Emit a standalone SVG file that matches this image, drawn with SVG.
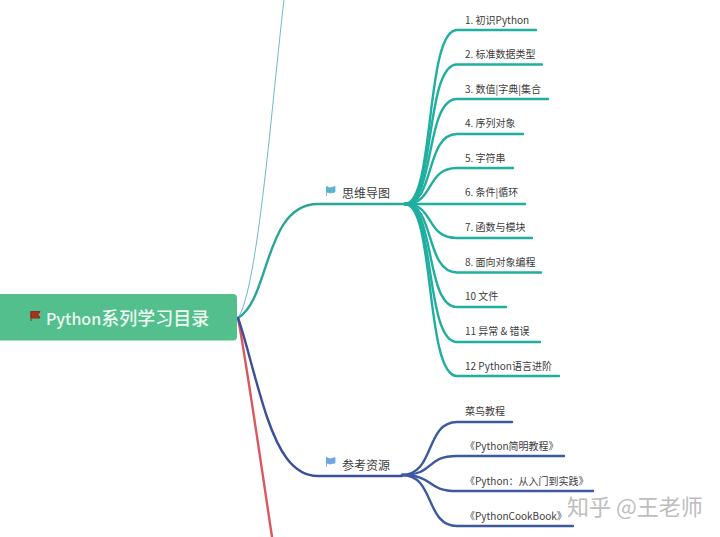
<svg xmlns="http://www.w3.org/2000/svg" width="720" height="537" viewBox="0 0 720 537">
<style>
text{font-family:"Noto Sans CJK SC","Noto Sans",sans-serif;fill:#3c3c3c}
.leaf{font-size:10px}
.mid{font-size:12px}
.root{font-size:18px;font-weight:500;fill:#eefaf3}
.root .lat{font-size:16px}
.c{fill:none;stroke-linecap:round}
.t{stroke:#1fae9f;stroke-width:2.4}
.b{stroke:#3c5a9e;stroke-width:2.4}
</style>
<rect width="720" height="537" fill="#fff"/>
<g id="connectors">
<path class="c" d="M238,318C258,290 272,100 284,0" stroke="#6db9c4" stroke-width="1"/>
<path class="c" d="M238,318C246,360 262,470 272,537" stroke="#d9585f" stroke-width="2.4"/>
<path class="c" d="M238,318C270,300 264,204 318,204H405" stroke="#2aa596" stroke-width="2.4"/>
<path class="c" d="M238,318C246,340 256,385 267,417S292,476 318,476H402" stroke="#3c4f98" stroke-width="2.4"/>
<g id="teal-branches">
<path class="c t" d="M405,204C435,204 425,30 457,30H536"/>
<path class="c t" d="M405,204C435,204 425,64.500 457,64.500H542"/>
<path class="c t" d="M405,204C435,204 425,99 457,99H548"/>
<path class="c t" d="M405,204C435,204 425,134 457,134H523"/>
<path class="c t" d="M405,204C435,204 425,168 457,168H513"/>
<path class="c t" d="M405,204H525"/>
<path class="c t" d="M405,204C435,204 425,238 457,238H532"/>
<path class="c t" d="M405,204C435,204 425,272.500 457,272.500H541"/>
<path class="c t" d="M405,204C435,204 425,307 457,307H506"/>
<path class="c t" d="M405,204C435,204 425,342 457,342H540"/>
<path class="c t" d="M405,204C435,204 425,376 457,376H559"/>
</g>
<g id="blue-branches">
<path class="c b" d="M402,475C435,475 425,422 457,422H512"/>
<path class="c b" d="M402,475C435,475 425,456 457,456H564"/>
<path class="c b" d="M402,475C435,475 425,491 457,491H593"/>
<path class="c b" d="M402,475C435,475 425,526 457,526H573"/>
</g>
</g>
<g id="root">
<rect x="-4" y="294" width="241" height="46.500" rx="4" fill="#52bf8c"/>
<path d="M31,311V321M31,311.500H40L38,314.500L40,318H31Z" fill="#a5321c" stroke="#8a2c1c" stroke-width="1"/>
<text class="root" x="46" y="325"><tspan class="lat">Python</tspan>系列学习目录</text>
</g>
<g id="n-mindmap">
<path d="M326.500,186V196M326.500,186.500L330,188L335,186.500V192L330,193L326.500,192Z" fill="#58b4cc" stroke="#58b4cc" stroke-width="0.8"/>
<text class="mid" x="342" y="198">思维导图</text>
</g>
<g id="n-resources">
<path d="M326.500,457V467M326.500,457.500L330,459L335,457.500V463L330,464L326.500,463Z" fill="#6fa5e2" stroke="#6fa5e2" stroke-width="0.8"/>
<text class="mid" x="342" y="470">参考资源</text>
</g>
<g id="n1"><text class="leaf" x="465" y="23.500">1. 初识Python</text></g>
<g id="n2"><text class="leaf" x="465" y="58">2. 标准数据类型</text></g>
<g id="n3"><text class="leaf" x="465" y="92.500">3. 数值|字典|集合</text></g>
<g id="n4"><text class="leaf" x="465" y="127">4. 序列对象</text></g>
<g id="n5"><text class="leaf" x="465" y="161.500">5. 字符串</text></g>
<g id="n6"><text class="leaf" x="465" y="196">6. 条件|循环</text></g>
<g id="n7"><text class="leaf" x="465" y="231">7. 函数与模块</text></g>
<g id="n8"><text class="leaf" x="465" y="265.500">8. 面向对象编程</text></g>
<g id="n10"><text class="leaf" x="465" y="300">10 文件</text></g>
<g id="n11"><text class="leaf" x="465" y="335">11 异常 &amp; 错误</text></g>
<g id="n12"><text class="leaf" x="465" y="369.500">12 Python语言进阶</text></g>
<g id="r1"><text class="leaf" x="465" y="415">菜鸟教程</text></g>
<g id="r2"><text class="leaf" x="465" y="450">《Python简明教程》</text></g>
<g id="r3"><text class="leaf" x="465" y="485">《Python：从入门到实践》</text></g>
<g id="r4"><text class="leaf" x="465" y="520">《PythonCookBook》</text></g>
<text x="567" y="515" font-size="22" style="fill:#bdbdbd">知乎 @王老师</text>
</svg>
